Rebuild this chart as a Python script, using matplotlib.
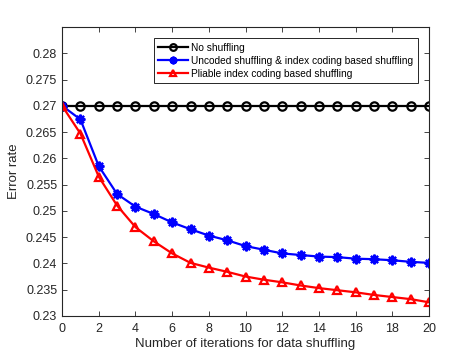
import numpy as np
import matplotlib
matplotlib.use("Agg")
import matplotlib.pyplot as plt
from matplotlib.ticker import FuncFormatter

plt.rcParams["font.family"] = ["Liberation Sans", "DejaVu Sans"]

iterations = np.arange(0, 21)
no_shuffling = [0.27] * 21
uncoded = [0.2700, 0.2674, 0.2585, 0.2532, 0.2508, 0.2494, 0.2478, 0.2465,
           0.2453, 0.2444, 0.2433, 0.2426, 0.2419, 0.2416, 0.2413, 0.2412,
           0.2409, 0.2408, 0.2406, 0.2403, 0.2401]
pliable = [0.2700, 0.2647, 0.2565, 0.2510, 0.2469, 0.2442, 0.2419, 0.2401,
           0.2392, 0.2384, 0.2375, 0.2369, 0.2364, 0.2358, 0.2353, 0.2349,
           0.2345, 0.2340, 0.2336, 0.2332, 0.2326]

labels = ["No shuffling",
          "Uncoded shuffling & index coding based shuffling",
          "Pliable index coding based shuffling"]

fig = plt.figure(figsize=(4.74, 3.55), dpi=100)
ax = fig.add_axes([0.131, 0.110, 0.774, 0.814])

ax.plot(iterations, no_shuffling, color="black", marker="o", markersize=6,
        markerfacecolor="none", markeredgewidth=1.6, linewidth=1.6, label=labels[0])
ax.plot(iterations, uncoded, color="blue", marker=(8, 2, 0), markersize=7,
        markeredgewidth=1.6, linewidth=1.6, label=labels[1])
ax.plot(iterations, pliable, color="red", marker="^", markersize=6,
        markerfacecolor="none", markeredgewidth=1.6, linewidth=1.6, label=labels[2])

ax.set_xlim(0, 20)
ax.set_ylim(0.23, 0.285)
ax.set_xticks(np.arange(0, 21, 2))
ax.set_yticks(np.arange(0.23, 0.2801, 0.005))
ax.yaxis.set_major_formatter(FuncFormatter(lambda v, p: "%g" % round(v, 3)))

gray = "#262626"
for s in ax.spines.values():
    s.set_color(gray)
    s.set_linewidth(0.8)
ax.tick_params(direction="in", top=True, right=True, length=3.5, width=0.6,
               labelsize=9, colors=gray, labelcolor=gray)
ax.tick_params(axis="x", pad=5)

ax.set_xlabel("Number of iterations for data shuffling", fontsize=9.5, color=gray, labelpad=2)
ax.set_ylabel("Error rate", fontsize=9.5, color=gray, labelpad=4)

leg = ax.legend(loc="upper right", bbox_to_anchor=(0.970, 0.962), fontsize=7.3,
                frameon=True, fancybox=False, edgecolor=gray, framealpha=1,
                borderpad=0.45, labelspacing=0.3, handlelength=2.9,
                handletextpad=0.35, borderaxespad=0, markerscale=0.8)
leg.get_frame().set_linewidth(0.7)

fig.savefig("out.png", dpi=100)
